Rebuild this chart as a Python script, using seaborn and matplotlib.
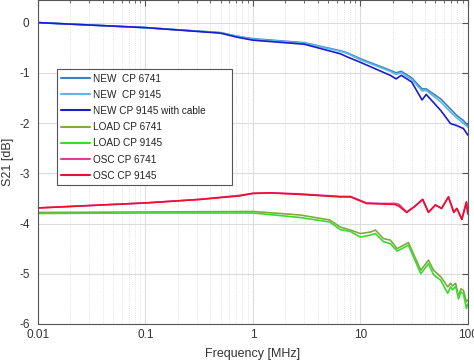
import numpy as np
import pandas as pd
import matplotlib
matplotlib.use("Agg")
import matplotlib.pyplot as plt
import seaborn as sns
from matplotlib.ticker import LogLocator, NullFormatter

# ---- data ----
f_new = [0.01, 0.1, 0.5, 0.71, 1, 3, 6.5, 7.5, 10, 19, 21.5, 24, 30, 37.5, 41, 56, 69, 79, 91, 100]
new_6741 = [0.0, -0.10, -0.20, -0.27, -0.32, -0.40, -0.56, -0.60, -0.72, -0.95, -1.00, -0.97, -1.10, -1.32, -1.32, -1.52, -1.72, -1.85, -1.95, -2.05]
new_9145 = [0.0, -0.10, -0.20, -0.27, -0.33, -0.41, -0.57, -0.61, -0.74, -0.97, -1.03, -1.00, -1.13, -1.36, -1.35, -1.58, -1.78, -1.90, -2.00, -2.08]
new_9145_cable = [0.0, -0.10, -0.21, -0.29, -0.35, -0.43, -0.62, -0.68, -0.79, -1.05, -1.12, -1.05, -1.18, -1.54, -1.43, -1.75, -2.01, -2.05, -2.11, -2.24]

f_load = [0.01, 0.1, 1, 2.75, 5.2, 6.5, 8.1, 10, 12.4, 13.8, 16.4, 19, 22, 28, 36.5, 43, 48, 56, 65, 69, 72, 77, 82, 86, 91, 97, 100]
load_6741 = [-3.78, -3.77, -3.76, -3.83, -3.93, -4.07, -4.13, -4.20, -4.17, -4.13, -4.30, -4.33, -4.50, -4.38, -4.93, -4.73, -4.93, -5.06, -5.26, -5.19, -5.24, -5.19, -5.46, -5.30, -5.33, -5.56, -5.52]
load_9145 = [-3.80, -3.79, -3.79, -3.88, -3.97, -4.12, -4.16, -4.27, -4.23, -4.20, -4.36, -4.40, -4.55, -4.43, -5.00, -4.80, -5.02, -5.13, -5.39, -5.26, -5.32, -5.25, -5.50, -5.36, -5.40, -5.69, -5.60]

f_osc = [0.01, 0.1, 0.32, 0.75, 1, 1.45, 2.75, 6.5, 8.1, 9, 11.4, 15.4, 21, 23, 27, 32, 38, 43, 50, 57, 66, 74, 79, 88, 97, 100]
osc_6741 = [-3.69, -3.59, -3.52, -3.44, -3.40, -3.39, -3.41, -3.46, -3.46, -3.50, -3.59, -3.60, -3.60, -3.62, -3.77, -3.66, -3.52, -3.77, -3.63, -3.70, -3.47, -3.77, -3.70, -3.91, -3.57, -3.80]
osc_9145 = [-3.69, -3.59, -3.52, -3.45, -3.40, -3.39, -3.42, -3.47, -3.47, -3.51, -3.60, -3.61, -3.62, -3.66, -3.78, -3.66, -3.52, -3.78, -3.63, -3.70, -3.47, -3.78, -3.70, -3.92, -3.57, -3.81]

labels = ["NEW  CP 6741", "NEW  CP 9145", "NEW CP 9145 with cable",
          "LOAD CP 6741", "LOAD CP 9145", "OSC CP 6741", "OSC CP 9145"]
colors = ["#3b80c0", "#5cb8ea", "#1c1ccc", "#82a83e", "#3ada2e", "#e23ca0", "#e8102c"]

series = [(f_new, new_6741), (f_new, new_9145), (f_new, new_9145_cable),
          (f_load, load_6741), (f_load, load_9145),
          (f_osc, osc_6741), (f_osc, osc_9145)]

rows = []
for lab, (fx, vals) in zip(labels, series):
    for fv, v in zip(fx, vals):
        rows.append({"Frequency": fv, "S21": v, "Series": lab})
df = pd.DataFrame(rows)

sns.set_style("white")
plt.rcParams["font.family"] = ["Liberation Sans", "DejaVu Sans"]

fig = plt.figure(figsize=(4.74, 3.62), dpi=100)
ax = fig.add_axes([0.080, 0.105, 0.907, 0.895])

sns.lineplot(data=df, x="Frequency", y="S21", hue="Series", hue_order=labels,
             palette=dict(zip(labels, colors)), sort=False, estimator=None,
             linewidth=1.2, ax=ax, legend=False)

ax.set_xscale("log")
ax.set_xlim(0.01, 100)
ax.set_ylim(-6, 0.45)
ax.set_xticks([0.01, 0.1, 1, 10, 100])
ax.set_xticklabels(["0.01", "0.1", "1", "10", "100"])
ax.xaxis.set_minor_locator(LogLocator(base=10, subs=np.arange(2, 10)))
ax.xaxis.set_minor_formatter(NullFormatter())
ax.set_yticks([0, -1, -2, -3, -4, -5, -6])
ax.set_yticklabels(["0", "-1", "-2", "-3", "-4", "-5", "-6"])

ax.grid(True, which="major", color="#dcdcdc", linewidth=0.8, linestyle="-")
ax.grid(True, which="minor", axis="x", color="#d8d8d8", linewidth=0.6, linestyle=":")
ax.set_axisbelow(True)

for sp in ax.spines.values():
    sp.set_color("#555555")
    sp.set_linewidth(0.8)
ax.tick_params(which="both", direction="in", top=True, right=True,
               colors="#555555", labelcolor="#333333", labelsize=8.5)
ax.tick_params(which="major", length=4)
ax.tick_params(which="minor", length=2)
ax.tick_params(axis="y", pad=6)

ax.set_xlabel("Frequency [MHz]", fontsize=9, color="#333333", labelpad=5)
ax.set_ylabel("S21 [dB]", fontsize=9, color="#333333", labelpad=4)

handles = [plt.Line2D([], [], color=c, linewidth=1.5) for c in colors]
leg_w, leg_h = 0.407, 0.349
leg = ax.legend(handles, labels, loc="upper left",
                bbox_to_anchor=(0.044, 0.787 - leg_h, leg_w, leg_h), mode="expand",
                fontsize=7.2, frameon=True, fancybox=False, edgecolor="#555555",
                framealpha=1, handlelength=2.9, handletextpad=0.3,
                labelspacing=0.62, borderpad=0.45, borderaxespad=0)
leg.get_frame().set_linewidth(0.8)
for t in leg.get_texts():
    t.set_color("#222222")

fig.savefig("out.png", dpi=100)
